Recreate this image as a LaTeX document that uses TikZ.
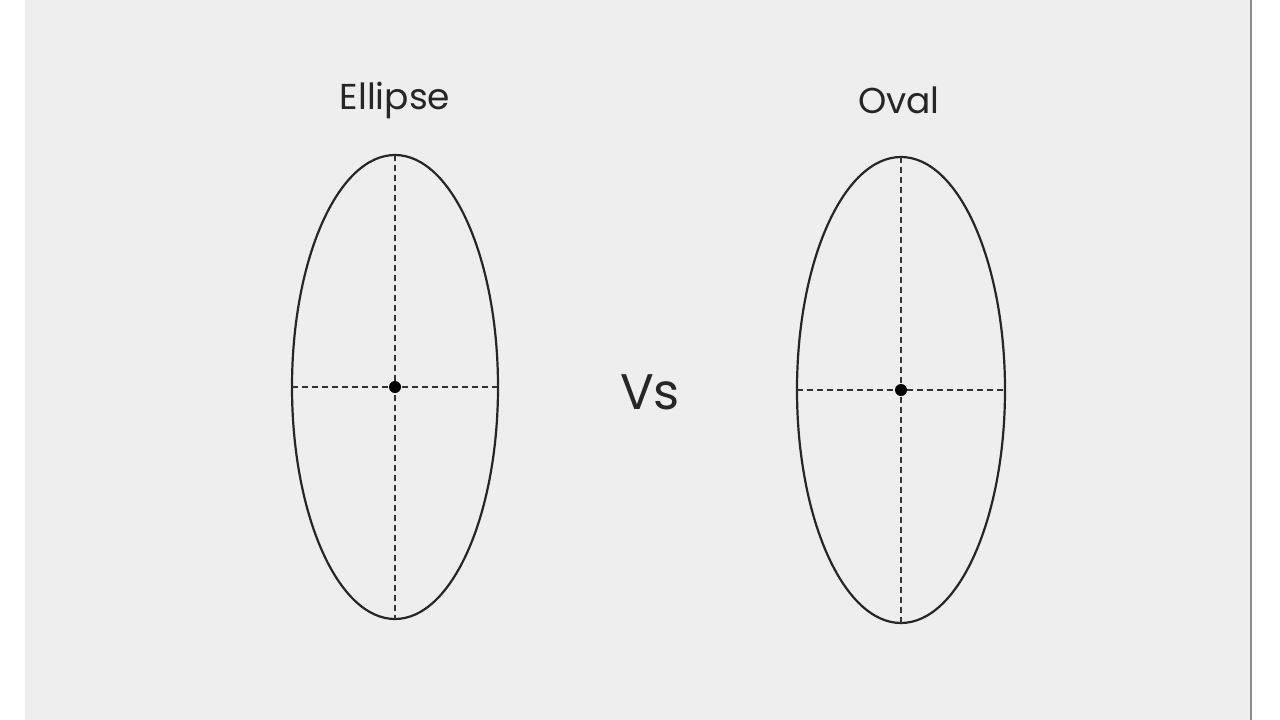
\documentclass[tikz,border=0pt]{standalone}
\usepackage{fontspec}
\setmainfont{Poppins}
\begin{document}
\begin{tikzpicture}[x=1pt,y=-1pt,
  shp/.style={draw=black!85,line width=2.2pt},
  axis/.style={draw=black!80,line width=1.3pt,dash pattern=on 6pt off 4pt},
  lbl/.style={font=\fontsize{36}{40}\selectfont,text=black!85}]
\useasboundingbox (0,0) rectangle (1280,720);
\fill[white] (0,0) rectangle (1280,720);
\fill[black!6.5] (25,0) rectangle (1250,720);
\draw[black!45,line width=2pt] (1251,0) -- (1251,720);
% ellipse
\coordinate (c1) at (395,387);
\draw[shp] (c1) ellipse [x radius=103, y radius=232];
\coordinate (t1) at (395,155); \coordinate (b1) at (395,619);
\coordinate (l1) at (292,387); \coordinate (r1) at (498,387);
\draw[axis] (t1) -- (b1); \draw[axis] (l1) -- (r1);
\fill (c1) circle (6);
\node[lbl] (e) at (395,100) {Ellipse};
% oval
\coordinate (c2) at (901,390);
\draw[shp] (c2) ellipse [x radius=104, y radius=233];
\coordinate (t2) at (901,157); \coordinate (b2) at (901,623);
\coordinate (l2) at (797,390); \coordinate (r2) at (1005,390);
\draw[axis] (t2) -- (b2); \draw[axis] (l2) -- (r2);
\fill (c2) circle (6);
\node[lbl] (o) at (899,100) {Oval};
\node[font=\fontsize{50}{54}\selectfont,text=black!85] (vs) at (650,392) {Vs};
\end{tikzpicture}
\end{document}
